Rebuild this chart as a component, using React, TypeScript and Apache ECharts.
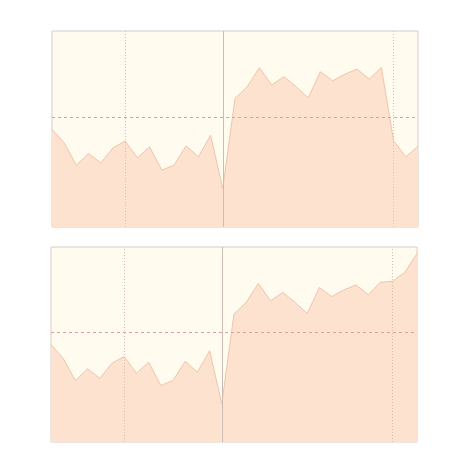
import React, { useEffect, useRef } from "react";
import * as echarts from "echarts";

const categories: string[] = Array.from({ length: 31 }, (_, i) => String(i + 1));

const topValues: number[] = [
  49.9, 42.9, 31.5, 37.5, 32.7, 40.4, 43.8, 35.3, 40.9, 29.0,
  31.5, 41.4, 35.8, 46.8, 19.6, 65.6, 71.6, 81.3, 72.4, 76.7,
  71.6, 65.9, 79.2, 74.6, 77.9, 80.6, 75.5, 81.3, 44.0, 35.8, 41.2,
];

const bottomValues: number[] = [
  49.9, 42.9, 31.5, 37.5, 32.7, 40.4, 43.8, 35.3, 40.9, 29.0,
  31.5, 41.4, 35.8, 46.8, 19.6, 65.6, 71.6, 81.3, 72.4, 76.7,
  71.6, 65.9, 79.2, 74.6, 77.9, 80.6, 75.5, 81.9, 82.4, 87.0, 96.6,
];

const dottedMarks: string[] = ["7", "29"];
const solidMarks: string[] = ["15"];
const levelValue = 56.2;

export default function App() {
  const ref = useRef<HTMLDivElement>(null);

  useEffect(() => {
    if (!ref.current) return;
    const chart = echarts.init(ref.current, undefined, { renderer: "svg" });

    const makeSeries = (data: number[], idx: number) => ({
      type: "line",
      xAxisIndex: idx,
      yAxisIndex: idx,
      data,
      symbol: "none",
      lineStyle: { color: "#f0c4ab", width: 1 },
      areaStyle: { color: "#fde3cf", opacity: 1 },
      markLine: {
        silent: true,
        symbol: "none",
        label: { show: false },
        data: [
          ...dottedMarks.map((c) => ({
            xAxis: c,
            lineStyle: { type: [1, 2], color: "#d9bdb4", width: 1 },
          })),
          ...solidMarks.map((c) => ({
            xAxis: c,
            lineStyle: { type: "solid", color: "#cbbdb5", width: 1 },
          })),
          {
            yAxis: levelValue,
            lineStyle: { type: [3, 3], color: "#e59c98", width: 1 },
          },
        ],
      },
    });

    const axisX = (gridIndex: number) => ({
      type: "category",
      gridIndex,
      data: categories,
      boundaryGap: false,
      axisLine: { show: false },
      axisTick: { show: false },
      axisLabel: { show: false },
      splitLine: { show: false },
    });
    const axisY = (gridIndex: number) => ({
      type: "value",
      gridIndex,
      min: 0,
      max: 100,
      axisLine: { show: false },
      axisTick: { show: false },
      axisLabel: { show: false },
      splitLine: { show: false },
    });

    chart.setOption({
      animation: false,
      grid: [
        {
          left: 52,
          top: 31,
          width: 366,
          height: 196,
          show: true,
          backgroundColor: "#fffbef",
          borderColor: "#d9cdc6",
          borderWidth: 1,
        },
        {
          left: 51,
          top: 247,
          width: 366,
          height: 195,
          show: true,
          backgroundColor: "#fffbef",
          borderColor: "#d9cdc6",
          borderWidth: 1,
        },
      ],
      xAxis: [axisX(0), axisX(1)],
      yAxis: [axisY(0), axisY(1)],
      series: [makeSeries(topValues, 0), makeSeries(bottomValues, 1)],
    });

    return () => chart.dispose();
  }, []);

  return (
    <div
      ref={ref}
      style={{ position: "fixed", left: 0, top: 0, width: 474, height: 474, background: "#ffffff" }}
    />
  );
}
